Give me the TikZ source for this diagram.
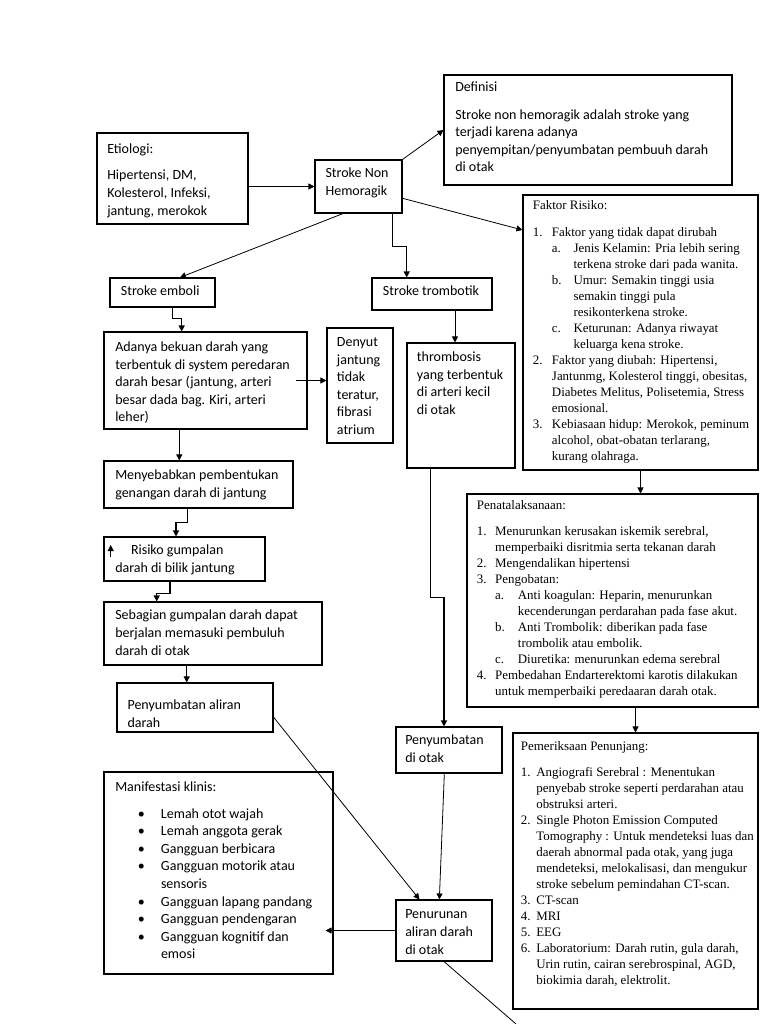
\documentclass[tikz,border=0pt]{standalone}
\usepackage{fontspec}
\setmainfont{Carlito}
\newfontfamily\tnr{Liberation Serif}
\usepackage{tikz}
\usetikzlibrary{positioning, fit, arrows.meta}

\newcommand{\nrbox}[2][14pt]{\makebox[#1][l]{#2}}

\begin{document}
\begin{tikzpicture}[x=0.75pt, y=-0.75pt,
    box/.style={draw, line width=0.8pt, inner sep=0pt},
    txt/.style={anchor=north west, inner sep=0pt, align=left, font=\fontsize{10.5}{13.2}\selectfont},
    ser/.style={txt, font=\tnr\fontsize{9.7}{12}\selectfont},
    arr/.style={-{Triangle[length=4.5pt, width=4.5pt]}, line width=0.6pt},
    elb/.style={arr, line width=0.9pt}]
\useasboundingbox (0,0) rectangle (768,1024);

% frames
\node[box, fit={(97,133) (248,224)}] (etio) {};
\node[box, fit={(315,160) (402,213)}] (sn) {};
\node[box, fit={(444,75) (732,185)}] (def) {};
\node[box, fit={(523,195) (758,470)}] (faktor) {};
\node[box, fit={(110,278) (215,307)}] (emboli) {};
\node[box, fit={(372,278) (492,310)}] (tromb) {};
\node[box, fit={(104,332) (307,429)}] (bekuan) {};
\node[box, fit={(327,328) (393,443)}] (denyut) {};
\node[box, fit={(407,343) (515,468)}] (thromb) {};
\node[box, fit={(104,461) (293,508)}] (genangan) {};
\node[box, fit={(104,537) (265,581)}] (gumpalan) {};
\node[box, fit={(104,602) (322,665)}] (sebagian) {};
\node[box, fit={(117,683) (273,732)}] (aliran) {};
\node[box, fit={(467,494) (758,707)}] (penata) {};
\node[box, fit={(396,727) (502,773)}] (sumbat) {};
\node[box, fit={(513,733) (758,1009)}] (periksa) {};
\node[box, fit={(104,772) (333,974)}] (manif) {};
\node[box, fit={(396,900) (492,961)}] (turun) {};

% texts
\node[txt] (etioT) at (107,141) {\strut Etiologi:\\[6.5pt]Hipertensi, DM,\\Kolesterol, Infeksi,\\jantung, merokok};
\node[txt] (snT) at (325.3,165) {\strut Stroke Non\\Hemoragik};
\node[txt] (defT) at (455,79) {\strut Definisi\\[7.5pt]Stroke non hemoragik adalah stroke yang\\terjadi karena adanya\\penyempitan/penyumbatan pembuuh darah\\di otak};
\node[txt] (emboliT) at (120.7,283) {\strut Stroke emboli};
\node[txt] (trombT) at (382.7,283) {\strut Stroke trombotik};
\node[txt] (bekuanT) at (115,339) {\strut Adanya bekuan darah yang\\terbentuk di system peredaran\\darah besar (jantung, arteri\\besar dada bag. Kiri, arteri\\leher)};
\node[txt] (denyutT) at (336.7,334) {\strut Denyut\\jantung\\tidak\\teratur,\\fibrasi\\atrium};
\node[txt] (thrombT) at (416.7,349) {\strut thrombosis\\yang terbentuk\\di arteri kecil\\di otak};
\node[txt] (genanganT) at (115,467.3) {\strut Menyebabkan pembentukan\\genangan darah di jantung};
\node[txt] (gumpalanT) at (115,542.3) {\strut\hspace*{11.8pt}Risiko gumpalan\\darah di bilik jantung};
\node[txt] (sebagianT) at (115,607.3) {\strut Sebagian gumpalan darah dapat\\berjalan memasuki pembuluh\\darah di otak};
\node[txt] (aliranT) at (127.3,697.3) {\strut Penyumbatan aliran\\darah};
\node[txt] (sumbatT) at (405,732.3) {\strut Penyumbatan\\di otak};
\node[txt] (turunT) at (405,906.3) {\strut Penurunan\\aliran darah\\di otak};
\node[txt] (manifT) at (115,779) {\strut Manifestasi klinis:\\[6.75pt]
  \hspace*{16.9pt}\makebox[17.4pt][l]{\textbullet}Lemah otot wajah\\
  \hspace*{16.9pt}\makebox[17.4pt][l]{\textbullet}Lemah anggota gerak\\
  \hspace*{16.9pt}\makebox[17.4pt][l]{\textbullet}Gangguan berbicara\\
  \hspace*{16.9pt}\makebox[17.4pt][l]{\textbullet}Gangguan motorik atau\\
  \hspace*{34.3pt}sensoris\\
  \hspace*{16.9pt}\makebox[17.4pt][l]{\textbullet}Gangguan lapang pandang\\
  \hspace*{16.9pt}\makebox[17.4pt][l]{\textbullet}Gangguan pendengaran\\
  \hspace*{16.9pt}\makebox[17.4pt][l]{\textbullet}Gangguan kognitif dan\\
  \hspace*{34.3pt}emosi};

\node[ser] (faktorT) at (532.7,198) {\strut Faktor Risiko:\\[8pt]
  \nrbox[14.25pt]{1.}Faktor yang tidak dapat dirubah\\
  \hspace*{14.25pt}\nrbox[16.2pt]{a.}Jenis Kelamin: Pria lebih sering\\
  \hspace*{30.45pt}terkena stroke dari pada wanita.\\
  \hspace*{14.25pt}\nrbox[16.2pt]{b.}Umur: Semakin tinggi usia\\
  \hspace*{30.45pt}semakin tinggi pula\\
  \hspace*{30.45pt}resikonterkena stroke.\\
  \hspace*{14.25pt}\nrbox[16.2pt]{c.}Keturunan: Adanya riwayat\\
  \hspace*{30.45pt}keluarga kena stroke.\\
  \nrbox[14.25pt]{2.}Faktor yang diubah: Hipertensi,\\
  \hspace*{14.25pt}Jantunmg, Kolesterol tinggi, obesitas,\\
  \hspace*{14.25pt}Diabetes Melitus, Polisetemia, Stress\\
  \hspace*{14.25pt}emosional.\\
  \nrbox[14.25pt]{3.}Kebiasaan hidup: Merokok, peminum\\
  \hspace*{14.25pt}alcohol, obat-obatan terlarang,\\
  \hspace*{14.25pt}kurang olahraga.};

\node[ser] (penataT) at (476.7,498.5) {\strut Penatalaksanaan:\\[7.5pt]
  \nrbox[13.7pt]{1.}Menurunkan kerusakan iskemik serebral,\\
  \hspace*{13.7pt}memperbaiki disritmia serta tekanan darah\\
  \nrbox[13.7pt]{2.}Mengendalikan hipertensi\\
  \nrbox[13.7pt]{3.}Pengobatan:\\
  \hspace*{13.7pt}\nrbox[17pt]{a.}Anti koagulan: Heparin, menurunkan\\
  \hspace*{30.7pt}kecenderungan perdarahan pada fase akut.\\
  \hspace*{13.7pt}\nrbox[17pt]{b.}Anti Trombolik: diberikan pada fase\\
  \hspace*{30.7pt}trombolik atau embolik.\\
  \hspace*{13.7pt}\nrbox[17pt]{c.}Diuretika: menurunkan edema serebral\\
  \nrbox[13.7pt]{4.}Pembedahan Endarterektomi karotis dilakukan\\
  \hspace*{13.7pt}untuk memperbaiki peredaaran darah otak.};

\node[ser] (periksaT) at (520.7,739.5) {\strut Pemeriksaan Penunjang:\\[7.5pt]
  \nrbox[11.5pt]{1.}Angiografi Serebral : Menentukan\\
  \hspace*{11.5pt}penyebab stroke seperti perdarahan atau\\
  \hspace*{11.5pt}obstruksi arteri.\\
  \nrbox[11.5pt]{2.}Single Photon Emission Computed\\
  \hspace*{11.5pt}Tomography : Untuk mendeteksi luas dan\\
  \hspace*{11.5pt}daerah abnormal pada otak, yang juga\\
  \hspace*{11.5pt}mendeteksi, melokalisasi, dan mengukur\\
  \hspace*{11.5pt}stroke sebelum pemindahan CT-scan.\\
  \nrbox[11.5pt]{3.}CT-scan\\
  \nrbox[11.5pt]{4.}MRI\\
  \nrbox[11.5pt]{5.}EEG\\
  \nrbox[11.5pt]{6.}Laboratorium: Darah rutin, gula darah,\\
  \hspace*{11.5pt}Urin rutin, cairan serebrospinal, AGD,\\
  \hspace*{11.5pt}biokimia darah, elektrolit.};

% connectors
\draw[arr] (etio.east |- sn.west) -- (sn.west);
\draw[arr] (sn.north east) -- (def.west);
\draw[arr] (sn.-15) -- ([yshift=76.9pt]faktor.west);
\draw[arr] ([xshift=-11.6pt]sn.south) -- ([xshift=13.1pt]emboli.north);
\draw[elb] (392.7,0 |- sn.south) -- ++(0,33) -| (406.7,0 |- tromb.north);
\draw[elb] (172.7,0 |- emboli.south) -- ++(0,11.3) -| (181.7,0 |- bekuan.north);
\draw[arr] ([xshift=-8.3pt]bekuan.east) -- (bekuan.east -| denyut.west);
\draw[arr] (179.3,0 |- bekuan.south) -- (179.3,0 |- genangan.north);
\draw[elb] (187.3,0 |- genangan.south) -- ++(0,13.7) -| (176,0 |- gumpalan.north);
\draw[elb] (170,0 |- gumpalan.south) -- ++(0,11.7) -| (156.7,0 |- sebagian.north);
\draw[arr] (186.7,0 |- sebagian.south) -- (186.7,0 |- aliran.north);
\draw[arr] (455,0 |- tromb.south) -- (455,0 |- thromb.north);
\draw[elb] (430.7,0 |- thromb.south) -- ++(0,128.7) -| (444,0 |- sumbat.north);
\draw[arr] (faktor.south) -- (faktor.south |- penata.north);
\draw[arr] (periksa.north |- penata.south) -- (periksa.north);
\draw[arr] (aliran.-7) -- ([xshift=18pt]turun.north west);
\draw[arr] ([xshift=-3.5pt]sumbat.south) -- ([xshift=-3.5pt]turun.north);
\draw[arr] (turun.west) -- ([xshift=-6pt]turun.west -| manif.east);
\coordinate (keluar) at (516,1024);
\draw[line width=0.6pt] (turun.south) -- (keluar);

% small arrow in gumpalan
\coordinate (upA) at (110.7,557);
\coordinate (upB) at (110.7,545);
\draw[arr] (upA) -- (upB);
\end{tikzpicture}
\end{document}
